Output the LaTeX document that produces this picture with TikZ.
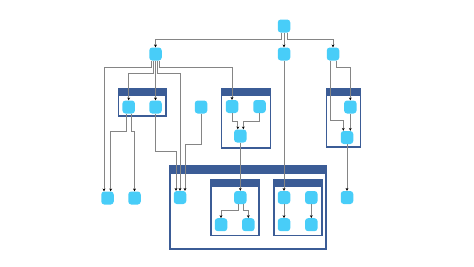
\documentclass[tikz,border=0pt]{standalone}
\usepackage{xcolor}
\usepackage{tikz}
\usetikzlibrary{arrows.meta,positioning}
\definecolor{itemcolor}{HTML}{48CDF8}
\definecolor{panelcolor}{HTML}{3B5C96}
\definecolor{linkcolor}{HTML}{858585}

\begin{document}
\begin{tikzpicture}[
    x=1pt, y=-1pt,
    item/.style={fill=itemcolor, rounded corners=3pt, minimum width=12.5, minimum height=13, inner sep=0pt},
    panel/.style={draw=panelcolor, line width=1.2pt, inner sep=0pt},
    hdr/.style={fill=panelcolor},
    arr/.style={-{Stealth[length=2.8pt, width=2.8pt, color=black]}, line width=0.7pt, linkcolor}
]
\useasboundingbox (0,0) rectangle (474,266);

% Panels
\node[panel, minimum width=47.7, minimum height=27.7] (box1) at (142.2,102.2) {};
\fill[hdr] (box1.north west) rectangle ++(47.7,8.4);
\node[panel, minimum width=49, minimum height=59.7] (box2) at (246,118.2) {};
\fill[hdr] (box2.north west) rectangle ++(49,8.4);
\node[panel, minimum width=34, minimum height=58.7] (box3) at (343.7,117.7) {};
\fill[hdr] (box3.north west) rectangle ++(34,8.4);
\node[panel, minimum width=156, minimum height=83.3] (bigbox) at (248,207.3) {};
\fill[hdr] (bigbox.north west) rectangle ++(156,9.3);
\node[panel, minimum width=48, minimum height=56] (boxa) at (235,207.3) {};
\fill[hdr] (boxa.north west) rectangle ++(48,8.6);
\node[panel, minimum width=48, minimum height=56] (boxb) at (298,207.3) {};
\fill[hdr] (boxb.north west) rectangle ++(48,8.6);

% Items
\node[item] (top)  at (284,26) {};
\node[item] (l2a)  at (155.5,54) {};
\node[item] (l2b)  at (284,54) {};
\node[item] (l2c)  at (333,54) {};
\node[item] (b1c1) at (128.7,107) {};
\node[item] (b1c2) at (155.5,107) {};
\node[item] (single) at (201,107) {};
\node[item] (b2c1) at (232,106.5) {};
\node[item] (b2c2) at (259.5,106.5) {};
\node[item] (b2c3) at (240.3,136) {};
\node[item] (b3c1) at (350.3,107) {};
\node[item] (b3c2) at (347,137.5) {};
\node[item] (leaf1) at (107.5,198) {};
\node[item] (leaf2) at (134.5,198) {};
\node[item] (leaf3) at (347,197.5) {};
\node[item] (mnode) at (180,197.5) {};
\node[item] (a1) at (240.3,197.5) {};
\node[item] (a2) at (221,224.7) {};
\node[item] (a3) at (248.3,224.7) {};
\node[item] (bb1) at (284,197.5) {};
\node[item] (bb2) at (311.3,197.5) {};
\node[item] (bb3) at (284,224.7) {};
\node[item] (bb4) at (311.3,224.7) {};

% Top level
\draw[arr] ([xshift=-3]top.south) -- ++(0,7) -| (l2a);
\draw[arr] (top) -- (l2b);
\draw[arr] ([xshift=3]top.south) -- ++(0,7) -| (l2c);

% Left fan
\draw[arr] ([xshift=-4]l2a.south) -- ++(0,6.5) -| ([xshift=-3.5]leaf1.north);
\draw[arr] ([xshift=-2]l2a.south) -- ++(0,13) -| (b1c1);
\draw[arr] (l2a) -- (b1c2);
\draw[arr] ([xshift=2]l2a.south) -- ++(0,13) -| (mnode);
\draw[arr] ([xshift=4]l2a.south) -- ++(0,6.5) -| (b2c1);

% Left panel
\draw[arr] ([xshift=-2.7]b1c1.south) -- ++(0,17.5) -| ([xshift=3.2]leaf1.north);
\draw[arr] ([xshift=2.7]b1c1.south) -- ++(0,17.5) -| (leaf2);
\draw[arr] (b1c2.south) -- ++(0,37.5) -| ([xshift=-4]mnode.north);
\draw[arr] (single.south) -- ++(0,31) -| ([xshift=5]mnode.north);

% Middle panel
\draw[arr] (b2c1.south) -- ++(0,8) -| ([xshift=-2.5]b2c3.north);
\draw[arr] (b2c2.south) -- ++(0,8) -| ([xshift=3]b2c3.north);
\draw[arr] (b2c3) -- (a1);
\draw[arr] (l2b) -- (bb1);

% Right panel
\draw[arr] ([xshift=-3]l2c.south) -- ++(0,60) -| ([xshift=-3.7]b3c2.north);
\draw[arr] ([xshift=3]l2c.south) -- ++(0,6.5) -| (b3c1);
\draw[arr] (b3c1.south) -- (b3c1.south |- b3c2.north);
\draw[arr] (b3c2) -- (leaf3);

% Inner panels
\draw[arr] ([xshift=-2]a1.south) -- ++(0,6) -| (a2);
\draw[arr] ([xshift=3]a1.south) -- ++(0,6) -| (a3);
\draw[arr] (bb1) -- (bb3);
\draw[arr] (bb2) -- (bb4);

\end{tikzpicture}
\end{document}
